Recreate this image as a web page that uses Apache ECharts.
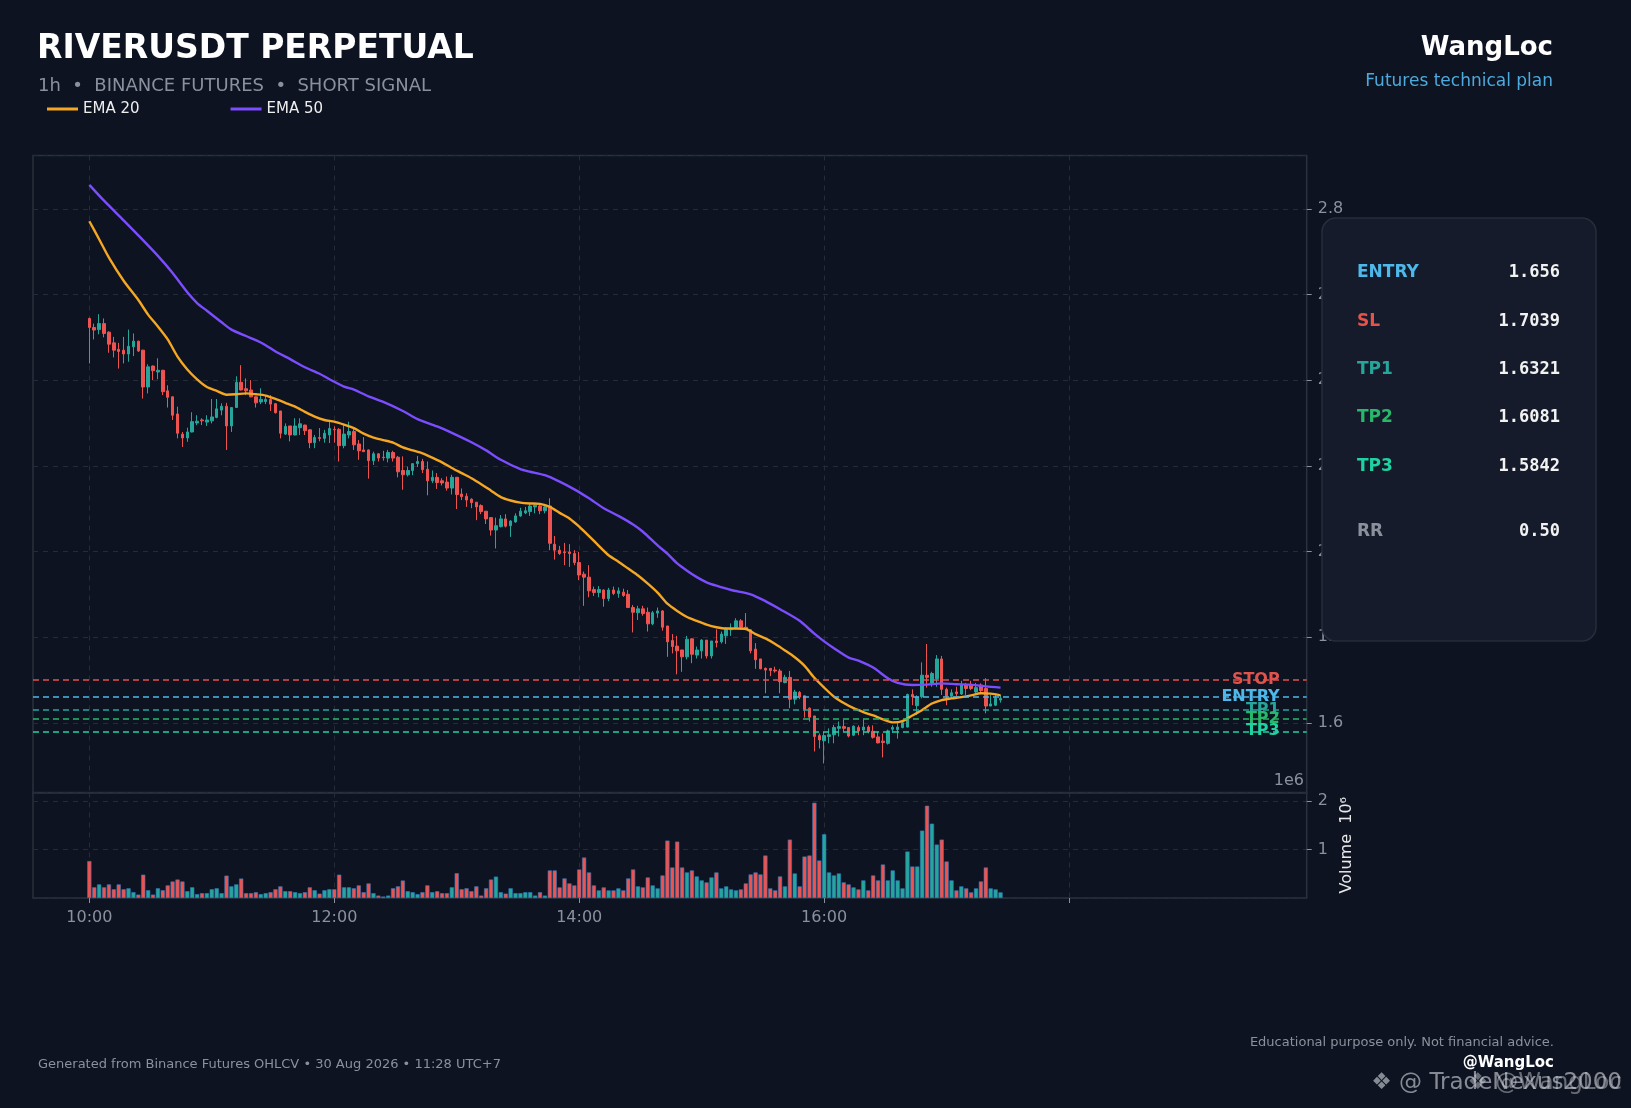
<!DOCTYPE html>
<html>
<head>
<meta charset="utf-8">
<title>RIVERUSDT PERPETUAL</title>
<script src="https://cdn.jsdelivr.net/npm/echarts@6.0.0/dist/echarts.min.js"></script>
<style>
  html, body { margin: 0; padding: 0; background: #0d1321; }
  #chart { width: 1631px; height: 1108px; }
</style>
</head>
<body>
<div id="chart"></div>
<script>
// candle values, one per bar
var opens = [
  2.544, 2.523, 2.518, 2.532, 2.512, 2.487, 2.472, 2.470, 2.461, 2.478,
  2.491, 2.470, 2.384, 2.433, 2.419, 2.423, 2.375, 2.361, 2.321, 2.274,
  2.265, 2.279, 2.300, 2.307, 2.302, 2.305, 2.313, 2.330, 2.339, 2.293,
  2.336, 2.395, 2.380, 2.377, 2.361, 2.349, 2.350, 2.355, 2.345, 2.328,
  2.274, 2.293, 2.272, 2.289, 2.295, 2.284, 2.254, 2.266, 2.264, 2.272,
  2.285, 2.285, 2.247, 2.272, 2.280, 2.251, 2.237, 2.237, 2.212, 2.228,
  2.220, 2.218, 2.231, 2.220, 2.189, 2.179, 2.189, 2.205, 2.210, 2.192,
  2.165, 2.173, 2.165, 2.162, 2.148, 2.173, 2.134, 2.129, 2.122, 2.115,
  2.107, 2.094, 2.079, 2.050, 2.058, 2.076, 2.060, 2.069, 2.083, 2.090,
  2.093, 2.104, 2.106, 2.095, 2.106, 2.017, 2.003, 1.999, 1.999, 1.995,
  1.974, 1.947, 1.940, 1.911, 1.904, 1.910, 1.890, 1.910, 1.902, 1.905,
  1.900, 1.869, 1.857, 1.866, 1.858, 1.831, 1.856, 1.861, 1.826, 1.792,
  1.779, 1.770, 1.754, 1.796, 1.758, 1.768, 1.793, 1.756, 1.791, 1.789,
  1.803, 1.817, 1.823, 1.838, 1.823, 1.817, 1.772, 1.749, 1.727, 1.727,
  1.723, 1.721, 1.694, 1.706, 1.655, 1.671, 1.663, 1.634, 1.616, 1.570,
  1.558, 1.568, 1.572, 1.587, 1.591, 1.589, 1.571, 1.589, 1.583, 1.590,
  1.580, 1.567, 1.557, 1.552, 1.585, 1.584, 1.589, 1.590, 1.666, 1.640,
  1.661, 1.711, 1.692, 1.703, 1.749, 1.678, 1.662, 1.672, 1.667, 1.688,
  1.688, 1.672, 1.688, 1.680, 1.639, 1.641, 1.653
];
var highs = [
  2.546, 2.532, 2.554, 2.544, 2.514, 2.501, 2.487, 2.501, 2.518, 2.509,
  2.492, 2.471, 2.437, 2.434, 2.451, 2.424, 2.388, 2.362, 2.338, 2.279,
  2.289, 2.325, 2.318, 2.311, 2.318, 2.356, 2.356, 2.346, 2.347, 2.337,
  2.409, 2.435, 2.404, 2.400, 2.362, 2.381, 2.365, 2.365, 2.346, 2.328,
  2.299, 2.293, 2.311, 2.311, 2.296, 2.285, 2.272, 2.288, 2.284, 2.303,
  2.292, 2.288, 2.295, 2.303, 2.288, 2.260, 2.267, 2.238, 2.233, 2.229,
  2.235, 2.237, 2.235, 2.223, 2.222, 2.198, 2.206, 2.223, 2.216, 2.210,
  2.189, 2.183, 2.171, 2.175, 2.179, 2.174, 2.147, 2.136, 2.124, 2.115,
  2.110, 2.094, 2.079, 2.079, 2.085, 2.087, 2.073, 2.089, 2.102, 2.104,
  2.112, 2.112, 2.112, 2.108, 2.124, 2.036, 2.013, 2.020, 2.017, 2.003,
  1.999, 1.953, 1.968, 1.918, 1.919, 1.911, 1.915, 1.918, 1.916, 1.913,
  1.910, 1.875, 1.873, 1.873, 1.869, 1.861, 1.869, 1.863, 1.826, 1.807,
  1.803, 1.770, 1.803, 1.797, 1.778, 1.795, 1.793, 1.791, 1.818, 1.813,
  1.823, 1.832, 1.844, 1.842, 1.856, 1.818, 1.786, 1.749, 1.729, 1.727,
  1.731, 1.726, 1.712, 1.721, 1.677, 1.674, 1.663, 1.636, 1.616, 1.575,
  1.579, 1.587, 1.595, 1.603, 1.607, 1.589, 1.594, 1.594, 1.608, 1.594,
  1.594, 1.579, 1.575, 1.584, 1.594, 1.600, 1.606, 1.668, 1.678, 1.664,
  1.741, 1.784, 1.719, 1.758, 1.756, 1.682, 1.678, 1.684, 1.698, 1.693,
  1.698, 1.693, 1.692, 1.704, 1.665, 1.668, 1.665
];
var lows = [
  2.439, 2.495, 2.507, 2.500, 2.464, 2.453, 2.427, 2.439, 2.443, 2.456,
  2.466, 2.357, 2.369, 2.400, 2.402, 2.365, 2.336, 2.307, 2.264, 2.244,
  2.256, 2.278, 2.295, 2.295, 2.293, 2.299, 2.311, 2.318, 2.237, 2.279,
  2.335, 2.376, 2.365, 2.360, 2.336, 2.344, 2.344, 2.328, 2.322, 2.264,
  2.272, 2.257, 2.271, 2.272, 2.272, 2.241, 2.241, 2.257, 2.254, 2.253,
  2.254, 2.210, 2.241, 2.264, 2.237, 2.214, 2.233, 2.170, 2.202, 2.210,
  2.212, 2.208, 2.210, 2.173, 2.144, 2.175, 2.178, 2.197, 2.183, 2.131,
  2.160, 2.146, 2.154, 2.142, 2.133, 2.099, 2.120, 2.104, 2.101, 2.073,
  2.087, 2.064, 2.037, 2.007, 2.056, 2.056, 2.034, 2.067, 2.081, 2.087,
  2.083, 2.089, 2.087, 2.089, 2.003, 1.981, 1.992, 1.968, 1.964, 1.968,
  1.933, 1.873, 1.893, 1.896, 1.893, 1.871, 1.884, 1.898, 1.892, 1.894,
  1.869, 1.811, 1.840, 1.850, 1.813, 1.828, 1.845, 1.815, 1.754, 1.762,
  1.713, 1.719, 1.748, 1.739, 1.750, 1.750, 1.750, 1.750, 1.776, 1.785,
  1.784, 1.803, 1.818, 1.818, 1.817, 1.762, 1.726, 1.725, 1.669, 1.709,
  1.717, 1.669, 1.692, 1.634, 1.643, 1.655, 1.612, 1.603, 1.533, 1.540,
  1.505, 1.552, 1.552, 1.568, 1.579, 1.566, 1.569, 1.571, 1.571, 1.575,
  1.563, 1.552, 1.519, 1.549, 1.576, 1.563, 1.587, 1.589, 1.641, 1.618,
  1.657, 1.682, 1.684, 1.684, 1.665, 1.641, 1.657, 1.662, 1.665, 1.665,
  1.676, 1.668, 1.668, 1.622, 1.639, 1.639, 1.647
];
var closes = [
  2.523, 2.517, 2.532, 2.509, 2.484, 2.470, 2.467, 2.461, 2.479, 2.491,
  2.468, 2.384, 2.431, 2.422, 2.423, 2.373, 2.360, 2.318, 2.276, 2.265,
  2.279, 2.303, 2.304, 2.305, 2.307, 2.314, 2.333, 2.339, 2.293, 2.336,
  2.395, 2.377, 2.375, 2.361, 2.347, 2.355, 2.355, 2.344, 2.324, 2.276,
  2.292, 2.272, 2.293, 2.298, 2.282, 2.254, 2.266, 2.264, 2.276, 2.287,
  2.284, 2.247, 2.274, 2.280, 2.249, 2.235, 2.233, 2.212, 2.228, 2.218,
  2.219, 2.231, 2.218, 2.186, 2.179, 2.189, 2.205, 2.210, 2.191, 2.165,
  2.173, 2.161, 2.160, 2.148, 2.173, 2.133, 2.128, 2.120, 2.114, 2.104,
  2.093, 2.076, 2.050, 2.060, 2.076, 2.059, 2.071, 2.083, 2.094, 2.095,
  2.106, 2.108, 2.095, 2.104, 2.019, 2.003, 1.995, 1.997, 1.995, 1.974,
  1.945, 1.940, 1.908, 1.904, 1.911, 1.890, 1.910, 1.902, 1.908, 1.897,
  1.869, 1.858, 1.866, 1.855, 1.831, 1.857, 1.861, 1.823, 1.789, 1.778,
  1.768, 1.754, 1.795, 1.760, 1.770, 1.793, 1.756, 1.791, 1.787, 1.807,
  1.818, 1.820, 1.838, 1.823, 1.818, 1.768, 1.747, 1.726, 1.723, 1.722,
  1.721, 1.696, 1.706, 1.655, 1.672, 1.660, 1.631, 1.613, 1.568, 1.560,
  1.570, 1.572, 1.589, 1.591, 1.587, 1.569, 1.592, 1.581, 1.590, 1.579,
  1.566, 1.553, 1.554, 1.581, 1.589, 1.590, 1.600, 1.666, 1.661, 1.660,
  1.711, 1.706, 1.715, 1.749, 1.678, 1.662, 1.670, 1.668, 1.688, 1.680,
  1.680, 1.682, 1.675, 1.639, 1.644, 1.657, 1.657
];
// volume in millions
var volumes = [
  0.76, 0.22, 0.28, 0.22, 0.28, 0.18, 0.28, 0.18, 0.20, 0.12,
  0.07, 0.48, 0.16, 0.07, 0.20, 0.16, 0.26, 0.34, 0.38, 0.34,
  0.14, 0.22, 0.08, 0.10, 0.10, 0.18, 0.20, 0.10, 0.46, 0.24,
  0.28, 0.40, 0.10, 0.10, 0.12, 0.08, 0.10, 0.12, 0.18, 0.24,
  0.14, 0.14, 0.12, 0.10, 0.12, 0.22, 0.16, 0.09, 0.16, 0.18,
  0.18, 0.48, 0.22, 0.22, 0.20, 0.26, 0.12, 0.30, 0.10, 0.05,
  0.03, 0.05, 0.20, 0.24, 0.36, 0.14, 0.12, 0.08, 0.12, 0.26,
  0.12, 0.14, 0.10, 0.10, 0.22, 0.51, 0.18, 0.20, 0.14, 0.24,
  0.05, 0.20, 0.38, 0.44, 0.12, 0.09, 0.20, 0.10, 0.10, 0.12,
  0.12, 0.05, 0.12, 0.05, 0.567, 0.567, 0.218, 0.403, 0.300, 0.259,
  0.587, 0.833, 0.526, 0.259, 0.157, 0.218, 0.157, 0.157, 0.198, 0.157,
  0.403, 0.587, 0.239, 0.218, 0.423, 0.259, 0.198, 0.464, 1.181, 0.628,
  1.160, 0.628, 0.526, 0.567, 0.444, 0.362, 0.321, 0.423, 0.526, 0.198,
  0.239, 0.177, 0.157, 0.177, 0.300, 0.485, 0.526, 0.485, 0.874, 0.198,
  0.157, 0.444, 0.239, 1.201, 0.505, 0.239, 0.853, 0.874, 1.959, 0.771,
  1.311, 0.526, 0.464, 0.505, 0.321, 0.280, 0.218, 0.177, 0.362, 0.157,
  0.464, 0.362, 0.689, 0.362, 0.567, 0.362, 0.198, 0.956, 0.648, 0.648,
  1.386, 1.898, 1.529, 1.099, 1.201, 0.751, 0.362, 0.157, 0.239, 0.198,
  0.116, 0.198, 0.341, 0.628, 0.198, 0.177, 0.116
];
// EMA readings: [bar index, value]
var ema20 = [
  [0, 2.771], [2, 2.729], [4, 2.686], [7, 2.632], [10, 2.587], [12, 2.553], [14, 2.525],
  [16, 2.495], [18, 2.455], [20, 2.425], [22, 2.402], [24, 2.384], [26, 2.375], [28, 2.366],
  [30, 2.367], [32, 2.369], [34, 2.367], [36, 2.364], [38, 2.356], [40, 2.347], [42, 2.338],
  [44, 2.326], [46, 2.315], [48, 2.307], [50, 2.303], [52, 2.296], [54, 2.288], [56, 2.275],
  [58, 2.266], [60, 2.260], [62, 2.254], [64, 2.243], [66, 2.236], [68, 2.229], [70, 2.219],
  [72, 2.208], [74, 2.195], [76, 2.183], [78, 2.171], [80, 2.157], [82, 2.142], [84, 2.127],
  [86, 2.119], [88, 2.114], [90, 2.112], [92, 2.111], [94, 2.104], [96, 2.090], [98, 2.077],
  [100, 2.058], [102, 2.036], [104, 2.013], [106, 1.991], [108, 1.976], [110, 1.960],
  [112, 1.944], [114, 1.925], [116, 1.904], [118, 1.878], [120, 1.861], [122, 1.847],
  [124, 1.838], [126, 1.829], [128, 1.823], [130, 1.820], [132, 1.820], [134, 1.819],
  [136, 1.807], [138, 1.797], [140, 1.784], [142, 1.769], [144, 1.753], [146, 1.733],
  [148, 1.705], [150, 1.682], [152, 1.661], [154, 1.646], [156, 1.634], [158, 1.625],
  [160, 1.617], [162, 1.608], [164, 1.601], [166, 1.604], [168, 1.617], [170, 1.630],
  [172, 1.645], [174, 1.653], [176, 1.657], [178, 1.660], [180, 1.664], [182, 1.669],
  [184, 1.668], [186, 1.664]
];
var ema50 = [
  [0, 2.856], [3, 2.819], [7, 2.773], [10, 2.738], [14, 2.690], [17, 2.650], [20, 2.605],
  [22, 2.580], [24, 2.562], [27, 2.535], [29, 2.518], [32, 2.503], [35, 2.488], [38, 2.467],
  [41, 2.449], [44, 2.430], [47, 2.415], [49, 2.402], [52, 2.385], [54, 2.378], [57, 2.362],
  [60, 2.349], [64, 2.328], [67, 2.309], [71, 2.292], [74, 2.277], [78, 2.255], [81, 2.236],
  [84, 2.214], [88, 2.192], [90, 2.186], [93, 2.178], [96, 2.163], [99, 2.145], [102, 2.124],
  [105, 2.101], [108, 2.083], [111, 2.063], [113, 2.046], [116, 2.014], [118, 1.995],
  [120, 1.972], [122, 1.955], [124, 1.940], [126, 1.928], [128, 1.920], [131, 1.910],
  [135, 1.900], [138, 1.884], [141, 1.865], [145, 1.838], [148, 1.808], [150, 1.790],
  [152, 1.774], [155, 1.752], [157, 1.745], [160, 1.729], [163, 1.704], [165, 1.693],
  [168, 1.688], [171, 1.689], [174, 1.692], [177, 1.690], [180, 1.689], [183, 1.685],
  [186, 1.682]
];
// x ticks: bar index -> label
var tickBars = [0, 50, 100, 150, 200];
var tickLabels = ['10:00', '12:00', '14:00', '16:00', ''];

var levelNames = ['STOP', 'ENTRY', 'TP1', 'TP2', 'TP3'];
var levelValues = [1.7039, 1.656, 1.6321, 1.6081, 1.5842];
var levelColors = ['#e0524c', '#4fb8ea', '#26a69a', '#27b86a', '#1ed3a2'];

var planLabels = ['ENTRY', 'SL', 'TP1', 'TP2', 'TP3', 'RR'];
var planValues = ['1.656', '1.7039', '1.6321', '1.6081', '1.5842', '0.50'];
var planColors = ['#4fb8ea', '#e5534b', '#26a69a', '#27b86a', '#1ed3a2', '#8b919c'];

var UP = '#26a69a', DOWN = '#ef5350';
var GRID = '#252b37', AXIS_TXT = '#8b919c';
var FONT = 'DejaVu Sans';

// categories: a few empty slots before the first bar and after the last one
var firstCat = -11, lastCat = 248;
var cats = [];
for (var k = firstCat; k <= lastCat; k++) cats.push(String(k));

var candleData = [], volData = [];
for (var c = 0; c < cats.length; c++) {
    var i = Number(cats[c]);
    if (i >= 0 && i < opens.length) {
        candleData.push([opens[i], closes[i], lows[i], highs[i]]);
        volData.push({ value: volumes[i], itemStyle: { color: closes[i] >= opens[i] ? UP : DOWN } });
    } else {
        candleData.push('-');
        volData.push('-');
    }
}
function toPairs(arr) {
    return arr.map(function (p) { return [String(p[0]), p[1]]; });
}
function isTick(index, value) {
    return tickBars.indexOf(Number(value)) >= 0;
}

var markData = levelNames.map(function (name, n) {
    return {
        name: name,
        yAxis: levelValues[n],
        lineStyle: { color: levelColors[n], type: [6, 4], width: 1.6 },
        label: {
            show: true, formatter: name, position: 'insideEnd', distance: [27, 0],
            color: levelColors[n], fontSize: 16, fontWeight: 'bold', fontFamily: FONT
        }
    };
});

var panelRowsY = [272.5, 321.5, 370, 418, 466.5, 531.5];
var graphics = [
    { type: 'text', x: 37, y: 49.5, z: 100, style: { text: 'RIVERUSDT PERPETUAL', fill: '#ffffff',
        font: 'bold 33px "DejaVu Sans"', textVerticalAlign: 'middle' } },
    { type: 'text', x: 38, y: 86.5, z: 100, style: { text: '1h  \u2022  BINANCE FUTURES  \u2022  SHORT SIGNAL',
        fill: '#8b919c', font: '18px "DejaVu Sans"', textVerticalAlign: 'middle' } },
    { type: 'text', x: 1553, y: 48, z: 100, style: { text: 'WangLoc', fill: '#ffffff',
        font: 'bold 26px "DejaVu Sans"', textAlign: 'right', textVerticalAlign: 'middle' } },
    { type: 'text', x: 1553, y: 82, z: 100, style: { text: 'Futures technical plan', fill: '#4ea9dc',
        font: '17px "DejaVu Sans"', textAlign: 'right', textVerticalAlign: 'middle' } },
    { type: 'rect', z: 100, shape: { x: 1322, y: 218, width: 274, height: 423, r: 14 },
        style: { fill: '#151b2a', stroke: '#262d3b', lineWidth: 1.5 } },
    { type: 'text', x: 1304, y: 781, z: 100, style: { text: '1e6', fill: AXIS_TXT,
        font: '16px "DejaVu Sans"', textAlign: 'right', textVerticalAlign: 'middle' } },
    { type: 'text', x: 38, y: 1065, z: 100, style: {
        text: 'Generated from Binance Futures OHLCV \u2022 30 Aug 2026 \u2022 11:28 UTC+7',
        fill: AXIS_TXT, font: '13px "DejaVu Sans"', textVerticalAlign: 'middle' } },
    { type: 'text', x: 1554, y: 1043, z: 100, style: { text: 'Educational purpose only. Not financial advice.',
        fill: AXIS_TXT, font: '13px "DejaVu Sans"', textAlign: 'right', textVerticalAlign: 'middle' } },
    { type: 'text', x: 1554, y: 1063, z: 100, style: { text: '@WangLoc', fill: '#ffffff',
        font: 'bold 15px "DejaVu Sans"', textAlign: 'right', textVerticalAlign: 'middle' } },
    { type: 'text', x: 1622, y: 1083, z: 101, style: { text: '\u2756 @ TradeNexus2000', fill: 'rgba(215,218,225,0.6)',
        font: '23px "DejaVu Sans"', textAlign: 'right', textVerticalAlign: 'middle' } },
    { type: 'text', x: 1622, y: 1083, z: 101, style: { text: '\u2756 @WangLoc', fill: 'rgba(215,218,225,0.45)',
        font: '23px "DejaVu Sans"', textAlign: 'right', textVerticalAlign: 'middle' } }
];
planLabels.forEach(function (lab, n) {
    graphics.push({ type: 'text', x: 1357, y: panelRowsY[n], z: 101, style: { text: lab, fill: planColors[n],
        font: 'bold 17px "DejaVu Sans"', textVerticalAlign: 'middle' } });
    graphics.push({ type: 'text', x: 1560, y: panelRowsY[n], z: 101, style: { text: planValues[n], fill: '#f2f2f2',
        font: 'bold 17px "DejaVu Sans Mono"', textAlign: 'right', textVerticalAlign: 'middle' } });
});

var myChart = echarts.init(document.getElementById('chart'));
var option = {
    backgroundColor: '#0d1321',
    animation: false,
    textStyle: { fontFamily: FONT },
    legend: {
        left: 47, top: 101, padding: 0, itemWidth: 31, itemHeight: 3, itemGap: 91,
        icon: 'rect', selectedMode: false,
        textStyle: { color: '#eeeeee', fontSize: 15, fontFamily: FONT, lineHeight: 16 },
        data: ['EMA 20', 'EMA 50']
    },
    grid: [
        { left: 33, top: 155.5, width: 1273.7, height: 637.5, show: true,
          borderColor: '#2b313d', borderWidth: 1.5, backgroundColor: 'transparent' },
        { left: 33, top: 792.5, width: 1273.7, height: 105.5, show: true,
          borderColor: '#2b313d', borderWidth: 1.5, backgroundColor: 'transparent' }
    ],
    xAxis: [
        { type: 'category', gridIndex: 0, data: cats, boundaryGap: true,
          axisLine: { show: false }, axisTick: { show: false }, axisLabel: { show: false },
          splitLine: { show: true, interval: isTick, alignWithLabel: true,
                       lineStyle: { color: GRID, type: [5, 5], width: 1 } } },
        { type: 'category', gridIndex: 1, data: cats, boundaryGap: true,
          axisLine: { show: false },
          axisTick: { show: true, interval: isTick, alignWithLabel: true, length: 5,
                      lineStyle: { color: AXIS_TXT } },
          axisLabel: { interval: isTick, color: AXIS_TXT, fontSize: 16, margin: 12,
                       formatter: function (v) { var n = tickBars.indexOf(Number(v)); return n >= 0 ? tickLabels[n] : ''; } },
          splitLine: { show: true, interval: isTick, alignWithLabel: true,
                       lineStyle: { color: GRID, type: [5, 5], width: 1 } } }
    ],
    yAxis: [
        { type: 'value', gridIndex: 0, position: 'right', min: 1.436, max: 2.9245, splitNumber: 7,
          axisLine: { show: false },
          axisTick: { show: true, length: 5, lineStyle: { color: AXIS_TXT } },
          axisLabel: { color: AXIS_TXT, fontSize: 16, margin: 11, showMinLabel: false, showMaxLabel: false,
                       padding: [6, 0, 0, 0],
                       formatter: function (v) { return v.toFixed(1); } },
          splitLine: { lineStyle: { color: GRID, type: [5, 5], width: 1 } } },
        { type: 'value', gridIndex: 1, position: 'right', min: 0, max: 2.17, interval: 1,
          name: 'Volume  10\u2076', nameLocation: 'middle', nameRotate: 90, nameGap: 31,
          nameTextStyle: { color: '#e8e8e8', fontSize: 16, fontFamily: FONT },
          axisLine: { show: false },
          axisTick: { show: true, length: 5, lineStyle: { color: AXIS_TXT } },
          axisLabel: { color: AXIS_TXT, fontSize: 16, margin: 11, showMinLabel: false, showMaxLabel: false,
                       padding: [5, 0, 0, 0] },
          splitLine: { lineStyle: { color: GRID, type: [5, 5], width: 1 } } }
    ],
    series: [
        { name: 'Price', type: 'candlestick', xAxisIndex: 0, yAxisIndex: 0, data: candleData,
          barWidth: 3, z: 2,
          itemStyle: { color: UP, color0: DOWN, borderColor: UP, borderColor0: DOWN, borderWidth: 1 },
          markLine: { silent: true, symbol: ['none', 'none'], animation: false, data: markData } },
        { name: 'EMA 20', type: 'line', xAxisIndex: 0, yAxisIndex: 0, data: toPairs(ema20),
          showSymbol: false, smooth: 0.25, z: 3, color: '#f5a623',
          lineStyle: { color: '#f5a623', width: 2.4 } },
        { name: 'EMA 50', type: 'line', xAxisIndex: 0, yAxisIndex: 0, data: toPairs(ema50),
          showSymbol: false, smooth: 0.25, z: 3, color: '#7c4dff',
          lineStyle: { color: '#7c4dff', width: 2.4 } },
        { name: 'Volume', type: 'bar', xAxisIndex: 1, yAxisIndex: 1, data: volData,
          barWidth: 4.2, itemStyle: { borderColor: '#2b7bbf', borderWidth: 0.6 } }
    ],
    graphic: graphics
};

myChart.setOption(option);
</script>
</body>
</html>
